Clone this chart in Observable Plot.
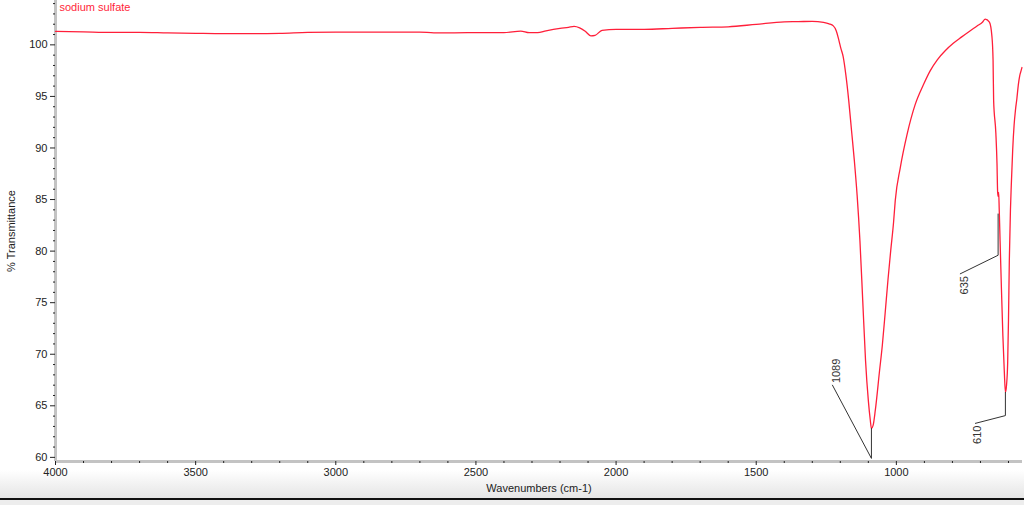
<!DOCTYPE html>
<html>
<head>
<meta charset="utf-8">
<script src="https://cdn.jsdelivr.net/npm/d3@7"></script>
<script src="https://cdn.jsdelivr.net/npm/@observablehq/plot@0.6"></script>
<style>
  html, body { margin: 0; padding: 0; background: #fff; overflow: hidden; }
  #chart { width: 1024px; height: 498px; position: relative;
    background: linear-gradient(to bottom, #ffffff 0px, #ffffff 470px, #e6e6e6 497px); }
  #rule { width: 1024px; height: 2px; background: #111; }
  #foot { width: 1024px; height: 5px; background: #ededed; }
</style>
</head>
<body>
<div id="chart"></div>
<div id="rule"></div>
<div id="foot"></div>
<script>
// ---- data ----
const title = "sodium sulfate";
const xLabel = "Wavenumbers (cm-1)";
const yLabel = "% Transmittance";

const wavenumber = [
  4000, 3900, 3800, 3700, 3600, 3500, 3400, 3300, 3200, 3100, 3000, 2900, 2800, 2700, 2650,
  2500, 2400, 2340, 2310, 2280, 2250, 2200, 2170, 2150, 2130, 2110, 2090, 2075, 2050, 2000,
  1900, 1800, 1700, 1600, 1500, 1400, 1350, 1300, 1260, 1240, 1225, 1215, 1205, 1198, 1190,
  1180, 1170, 1160, 1150, 1140, 1130, 1120, 1110, 1100, 1093, 1089, 1083, 1075, 1060, 1050,
  1040, 1030, 1020, 1010, 1004, 986, 962, 933, 904, 879, 854, 825, 797, 768, 740,
  711, 693, 683, 668, 659, 655, 653, 645, 641, 638.7,
  637, 635, 633, 630, 625, 620, 615, 611, 607, 603, 600, 597, 593, 590, 585,
  580, 575, 570, 565, 560, 555, 552
];
const transmittance = [
  101.31, 101.26, 101.21, 101.21, 101.16, 101.12, 101.09, 101.09, 101.12, 101.21, 101.24, 101.24, 101.24, 101.24, 101.16,
  101.18, 101.18, 101.34, 101.18, 101.18, 101.36, 101.6, 101.7, 101.79, 101.65, 101.31, 100.87, 100.92, 101.41, 101.5,
  101.5, 101.6, 101.7, 101.75, 101.99, 102.23, 102.25, 102.28, 102.18, 102.04, 101.84, 101.4, 100.44, 99.66, 98.88,
  97.04, 94.62, 91.7, 88.8, 85.4, 81.0, 75.2, 69.4, 65.5, 63.6, 62.8, 63.1, 64.6, 68.4, 70.9,
  74.0, 77.2, 80.1, 82.8, 84.9, 88.1, 91.3, 94.2, 96.1, 97.5, 98.55, 99.45, 100.15, 100.75, 101.3,
  101.85, 102.2, 102.5, 102.2, 100.8, 98.5, 94.6, 91.4, 88.5, 85.7,
  85.3, 85.7, 84.0, 81.0, 76.2, 71.8, 68.4, 66.3, 67.0, 69.1, 73.3, 79.1, 84.0, 86.4, 89.8,
  92.2, 93.7, 94.8, 96.1, 97.0, 97.5, 97.8
];

const xTicks = [4000, 3500, 3000, 2500, 2000, 1500, 1000];
const xMinorTicks = [3900,3800,3700,3600,3400,3300,3200,3100,2900,2800,2700,2600,2400,2300,2200,2100,1900,1800,1700,1600,1400,1300,1200,1100,900,800,700,600];
const yTicks = [60, 65, 70, 75, 80, 85, 90, 95, 100];
const yMinorTicks = [61,62,63,64,66,67,68,69,71,72,73,74,76,77,78,79,81,82,83,84,86,87,88,89,91,92,93,94,96,97,98,99,101,102,103,104];

// peak annotations: peak position, leader elbow, label anchor (data units)
const peakLabel   = ["1089", "635", "610"];
const peakWn      = [1089, 637, 611];
const peakTop     = [62.8, 83.6, 66.3];
const elbowT      = [59.9, 79.6, 64.05];
const leaderEndWn = [1228, 772, 718];
const leaderEndT  = [67.0, 77.8, 63.3];
const labelWn     = [1212, 756, 712];
const labelT      = [67.2, 75.8, 61.3];

const xDomain = [4000, 550];
const yDomain = [59.6, 104.3];

// ---- build ----
const spectrum = wavenumber.map((w, i) => ({w, t: transmittance[i]}));
const leaders = peakLabel.map((lab, i) => [
  {w: peakWn[i], t: peakTop[i]},
  {w: peakWn[i], t: elbowT[i]},
  {w: leaderEndWn[i], t: leaderEndT[i]}
]);
const labels = peakLabel.map((l, i) => ({l, w: labelWn[i], t: labelT[i]}));

const red = "#ff1f3a";
const axisGray = "#c3c3c3";
const font = "'Liberation Sans', Arial, sans-serif";

const chart = Plot.plot({
  width: 1024,
  height: 498,
  marginLeft: 55,
  marginRight: 2,
  marginTop: 0,
  marginBottom: 37,
  style: {background: "transparent", fontFamily: font, fontSize: "11px", color: "#222", overflow: "visible"},
  x: {domain: xDomain},
  y: {domain: yDomain},
  marks: [
    Plot.ruleX([xDomain[0]], {stroke: axisGray, strokeWidth: 3}),
    Plot.ruleY([yDomain[0]], {stroke: axisGray, strokeWidth: 3}),
    Plot.axisX({ticks: xTicks, tickSize: 4, tickPadding: 3, tickFormat: d => String(d), stroke: "#222", label: xLabel,
      labelAnchor: "center", labelArrow: "none", labelOffset: 30, fontSize: 11, fill: "#222"}),
    Plot.axisX({ticks: xMinorTicks, tickSize: 2, tickFormat: () => "", stroke: "#222", label: null}),
    Plot.axisY({ticks: yTicks, tickSize: 5, tickPadding: 3, tickFormat: d => String(d), stroke: "#222", label: yLabel,
      labelAnchor: "center", labelArrow: "none", labelOffset: 48, fontSize: 11, fill: "#222"}),
    Plot.axisY({ticks: yMinorTicks, tickSize: 2, tickFormat: () => "", stroke: "#222", label: null}),
    Plot.line(spectrum, {x: "w", y: "t", stroke: red, strokeWidth: 1.3, curve: "monotone-x"}),
    ...leaders.map(seg => Plot.line(seg, {x: "w", y: "t", stroke: "#333", strokeWidth: 1})),
    Plot.text(labels, {x: "w", y: "t", text: "l", rotate: -90, textAnchor: "start", fill: "#333", fontSize: 11}),
    Plot.text([title], {frameAnchor: "top-left", dx: 4, dy: 3, lineAnchor: "top", textAnchor: "start", fill: red, fontSize: 11})
  ]
});
document.getElementById("chart").appendChild(chart);
</script>
</body>
</html>
